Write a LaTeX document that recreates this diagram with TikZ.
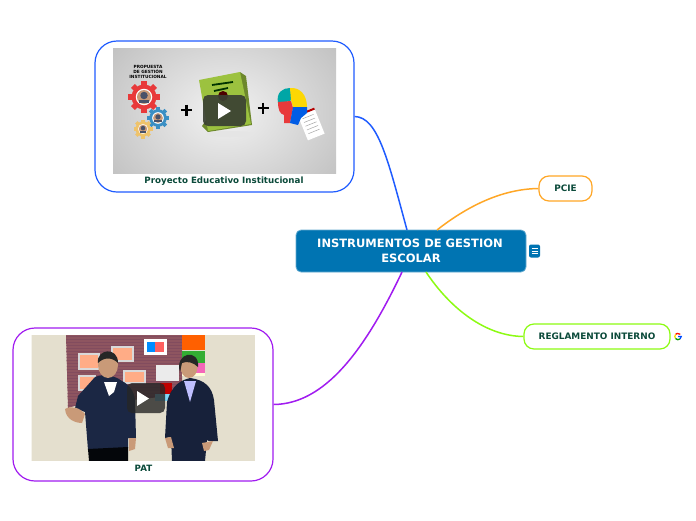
\documentclass[tikz,border=0pt]{standalone}
\usepackage{fontspec}
\setmainfont{DejaVu Sans}
\definecolor{txtgreen}{HTML}{0B4A3A}
\definecolor{rootblue}{HTML}{0074B2}
\definecolor{linkblue}{HTML}{1F5CFF}
\definecolor{linkpurple}{HTML}{A11CF0}
\definecolor{linkorange}{HTML}{FFA726}
\definecolor{linkgreen}{HTML}{8CFB12}
\definecolor{gearred}{HTML}{E8393A}
\definecolor{gearblue}{HTML}{3A8FC4}
\definecolor{gearyellow}{HTML}{EFC36B}
\definecolor{bookgreen}{HTML}{9CC23F}
\definecolor{navy}{HTML}{1B2744}
\definecolor{wall}{HTML}{E4DFCE}
\definecolor{skin}{HTML}{C99A78}
\definecolor{poster}{HTML}{8E5560}
\definecolor{playdark}{HTML}{3A4032}
\tikzset{
  topicbox/.style={draw,line width=1.2pt,fill=white,rounded corners=10pt,font=\bfseries\fontsize{8.9}{10}\selectfont,text=txtgreen,inner sep=0pt},
  framebox/.style={draw,line width=1.2pt,fill=white,rounded corners=22pt,inner sep=0pt},
  capt/.style={font=\bfseries\fontsize{8.7}{10}\selectfont,text=txtgreen},
  branch/.style={line width=1.5pt}
}
\newcommand{\gearicon}[4]{
  \foreach \a in {0,45,...,315}
    \fill[#4,rotate around={\a:(#1,#2)}] (#1-#3*0.22,#2) rectangle (#1+#3*0.22,#2-#3*1.25);
  \fill[#4] (#1,#2) circle (#3);
  \fill[white] (#1,#2) circle (#3*0.66);
  \fill[skin] (#1,#2) circle (#3*0.56);
  \fill[navy!80] (#1,#2-#3*0.12) circle (#3*0.3);
  \fill[navy!80] (#1-#3*0.42,#2+#3*0.5) rectangle (#1+#3*0.42,#2+#3*0.2);
}
\begin{document}
\begin{tikzpicture}[x=1pt,y=-1pt]
  \useasboundingbox (0,0) rectangle (696,520);
  \fill[white] (0,0) rectangle (696,520);

  \node[framebox,draw=linkblue,minimum width=259pt,minimum height=151pt] (pei) at (224.5,116.5) {};
  \node[framebox,draw=linkpurple,minimum width=260pt,minimum height=153pt] (pat) at (143,404.5) {};
  \node[draw=rootblue!60,line width=0.8pt,fill=rootblue,rounded corners=5pt,minimum width=230pt,minimum height=42pt,align=center,text=white,font=\bfseries\fontsize{11.5}{15.5}\selectfont] (root) at (411,251) {\hspace*{-2pt}INSTRUMENTOS DE GESTION\\ESCOLAR};
  \node[topicbox,draw=linkorange,minimum width=53pt,minimum height=25pt] (pcie) at (565.5,188.5) {PCIE};
  \node[topicbox,draw=linkgreen,minimum width=146pt,minimum height=25pt] (regla) at (597,336.5) {REGLAMENTO INTERNO};

  \coordinate (rootN1) at (407,230);
  \coordinate (rootN2) at (437,230);
  \coordinate (rootS1) at (402,272);
  \coordinate (rootS2) at (426,272);
  \draw[branch,linkblue] (pei.east) .. controls (378,117) and (388,160) .. (rootN1);
  \draw[branch,linkorange] (pcie.west) .. controls (500,189) and (465,208) .. (rootN2);
  \draw[branch,linkgreen] (regla.west) .. controls (485,336) and (450,308) .. (rootS2);
  \draw[branch,linkpurple] (pat.east) .. controls (325,404) and (365,350) .. (rootS1);

  % video one
  \begin{scope}
    \clip (113,48) rectangle (336,173);
    \shade[inner color=black!5,outer color=black!30] (40,-30) rectangle (410,255);
    \node[font=\bfseries\fontsize{4.3}{5}\selectfont,align=center] (propuesta) at (148,72) {PROPUESTA\\DE GESTIÓN\\INSTITUCIONAL};
    \gearicon{144}{97}{12.5}{gearred}
    \gearicon{158}{118}{8.8}{gearblue}
    \gearicon{143}{129}{7.6}{gearyellow}
    \foreach \px/\py in {186.5/110,263/108}{
      \draw[black,line width=2.8pt] (\px-5.5,\py) -- (\px+5.5,\py);
      \draw[black,line width=2.8pt] (\px,\py-5.5) -- (\px,\py+5.5);
    }
    \fill[black!10] (230,134) ellipse (24 and 3);
    \fill[bookgreen!70!black] (240,72) -- (246,76) -- (252,125) -- (208,132) -- (202,126) -- cycle;
    \fill[bookgreen] (199,80) -- (240,72) -- (251,124) -- (208,131) -- cycle;
    \draw[black!80!green,line width=1.8pt] (212,85) -- (233,82) (214,91) -- (228,88);
    \fill[black!70!red] (223,96) circle (5);
    \fill[white,rotate around={22:(311,124)}] (302,110) rectangle (320,138);
    \fill[red!70!black,rotate around={22:(311,124)}] (302,110) rectangle (320,112);
    \foreach \yy in {116,120,...,134}
      \draw[black!35,line width=0.5pt,rotate around={22:(311,124)}] (305,\yy) -- (317,\yy);
    \fill[teal!70!cyan] (278,103) .. controls (276,92) and (283,88) .. (290,88) -- (292,100) -- (286,102) -- cycle;
    \fill[yellow!75!orange] (290,88) .. controls (300,87) and (307,95) .. (307,107) -- (293,107) -- (291,100) -- cycle;
    \fill[gearred] (278,102) -- (291,101) -- (293,108) -- (290,123) -- (284,123) -- (284,115) .. controls (280,114) and (278,110) .. (278,102) -- cycle;
    \fill[blue!60!cyan!90!black] (293,107) -- (307,107) -- (307,113) -- (301,118) -- (298,125) -- (290,123) -- cycle;
  \end{scope}

  % video two
  \begin{scope}
    \clip (31.5,335) rectangle (255,460.5);
    \fill[wall] (31,335) rectangle (255,461);
    \fill[poster] (66,335) -- (182,335) -- (182,395) -- (78,405) -- (68,408) -- cycle;
    \begin{scope}
      \clip (66,335) -- (182,335) -- (182,395) -- (78,405) -- (68,408) -- cycle;
      \foreach \yy in {336,339,...,408}
        \draw[purple!40!black!70,line width=0.5pt] (66,\yy) -- (182,\yy);
    \end{scope}
    \fill[orange!75!red] (182,335) rectangle (205,350);
    \fill[green!60!black!80] (182,351) rectangle (205,363);
    \fill[magenta!60!white] (182,363) rectangle (205,373);
    \fill[yellow!15] (182,373) rectangle (205,376);
    \fill[red!75!black] (160,383) rectangle (172,394);
    \fill[cyan!50] (155,394) rectangle (170,401);
    \foreach \px/\py/\pw/\ph in {78/353/22/17,111/346/23/16,123/370/23/14,78/375/18/16}{
      \fill[white!85!black] (\px,\py) rectangle ++(\pw,\ph);
      \fill[orange!30!pink] (\px+2,\py+2) rectangle ++(\pw-4,\ph-4);
    }
    \fill[white] (144,339) rectangle (167,355);
    \fill[blue!45!cyan] (147,342) rectangle (155,352);
    \fill[red!50!pink] (155,342) rectangle (164,352);
    \fill[white!92!black] (156,365) rectangle (179,381);
    % man
    \fill[navy] (95,377) .. controls (105,373) and (115,376) .. (122,381) .. controls (130,385) and (134,392) .. (135,400) -- (136,438) -- (128,438) -- (128,448) -- (88,450) -- (85,412) -- (75,408) -- (78,396) -- cycle;
    \fill[black!85!navy] (88,449) -- (128,447) -- (128,461) -- (89,461) -- cycle;
    \fill[white] (104,382) -- (117,382) -- (114,392) -- (109,396) -- cycle;
    \fill[skin] (65,409) .. controls (72,405) and (80,408) .. (85,414) -- (82,423) .. controls (76,423) and (66,420) .. (65,409) -- cycle;
    \fill[skin] (129,438) -- (136,438) -- (135,449) -- (129,451) -- cycle;
    \fill[skin] (108,365) ellipse (10 and 13);
    \fill[black!85] (98,363) .. controls (96,349) and (118,346) .. (118,363) .. controls (112,357) and (104,357) .. (98,363) -- cycle;
    % woman
    \fill[navy!85!black] (167,402) .. controls (172,384) and (182,380) .. (190,378) .. controls (205,380) and (212,387) .. (214,400) -- (218,441) -- (209,441) -- (207,440) -- (205,461) -- (172,461) -- (171,437) -- (165,438) -- cycle;
    \fill[blue!25!white] (184,381) -- (196,381) -- (190,402) -- cycle;
    \fill[skin] (165,438) -- (171,437) -- (174,448) -- (168,448) -- cycle;
    \fill[skin] (202,443) -- (213,441) -- (209,450) -- (204,451) -- cycle;
    \fill[skin] (189,367) ellipse (8.5 and 11);
    \fill[black!85] (180,372) .. controls (174,352) and (200,348) .. (198,367) .. controls (193,362) and (187,361) .. (182,363) -- cycle;
  \end{scope}

  % play buttons
  \fill[playdark,opacity=0.92,rounded corners=5pt] (203,95) rectangle (246,126);
  \fill[white] (218,103) -- (218,119) -- (231,111) -- cycle;
  \fill[black!85,opacity=0.8,rounded corners=5pt] (127,383) rectangle (165,413);
  \fill[white] (137,391) -- (137,406) -- (149,398.5) -- cycle;

  \node[capt] (peilabel) at (224,181.5) {Proyecto Educativo Institucional};
  \node[capt] (patlabel) at (143.5,468) {PAT};

  % note icon
  \node[fill=rootblue,rounded corners=2pt,minimum width=11pt,minimum height=13pt,inner sep=0pt] (note) at (534.5,251) {};
  \foreach \yy in {-2.5,0,2.5}
    \draw[white,line width=0.6pt] ([shift={(-3,\yy)}]note.center) -- ([shift={(3,\yy)}]note.center);

  % google icon
  \coordinate (gcenter) at (678,336.5);
  \draw[line width=1.3pt,red!85!orange] (gcenter) ++(-45:3.2) arc[start angle=-45,end angle=-140,radius=3.2];
  \draw[line width=1.3pt,yellow!80!orange] (gcenter) ++(-140:3.2) arc[start angle=-140,end angle=-220,radius=3.2];
  \draw[line width=1.3pt,green!60!black] (gcenter) ++(-220:3.2) arc[start angle=-220,end angle=-310,radius=3.2];
  \draw[line width=1.3pt,blue!70!cyan] (gcenter) ++(50:3.2) arc[start angle=50,end angle=0,radius=3.2] -- (gcenter);
\end{tikzpicture}
\end{document}
